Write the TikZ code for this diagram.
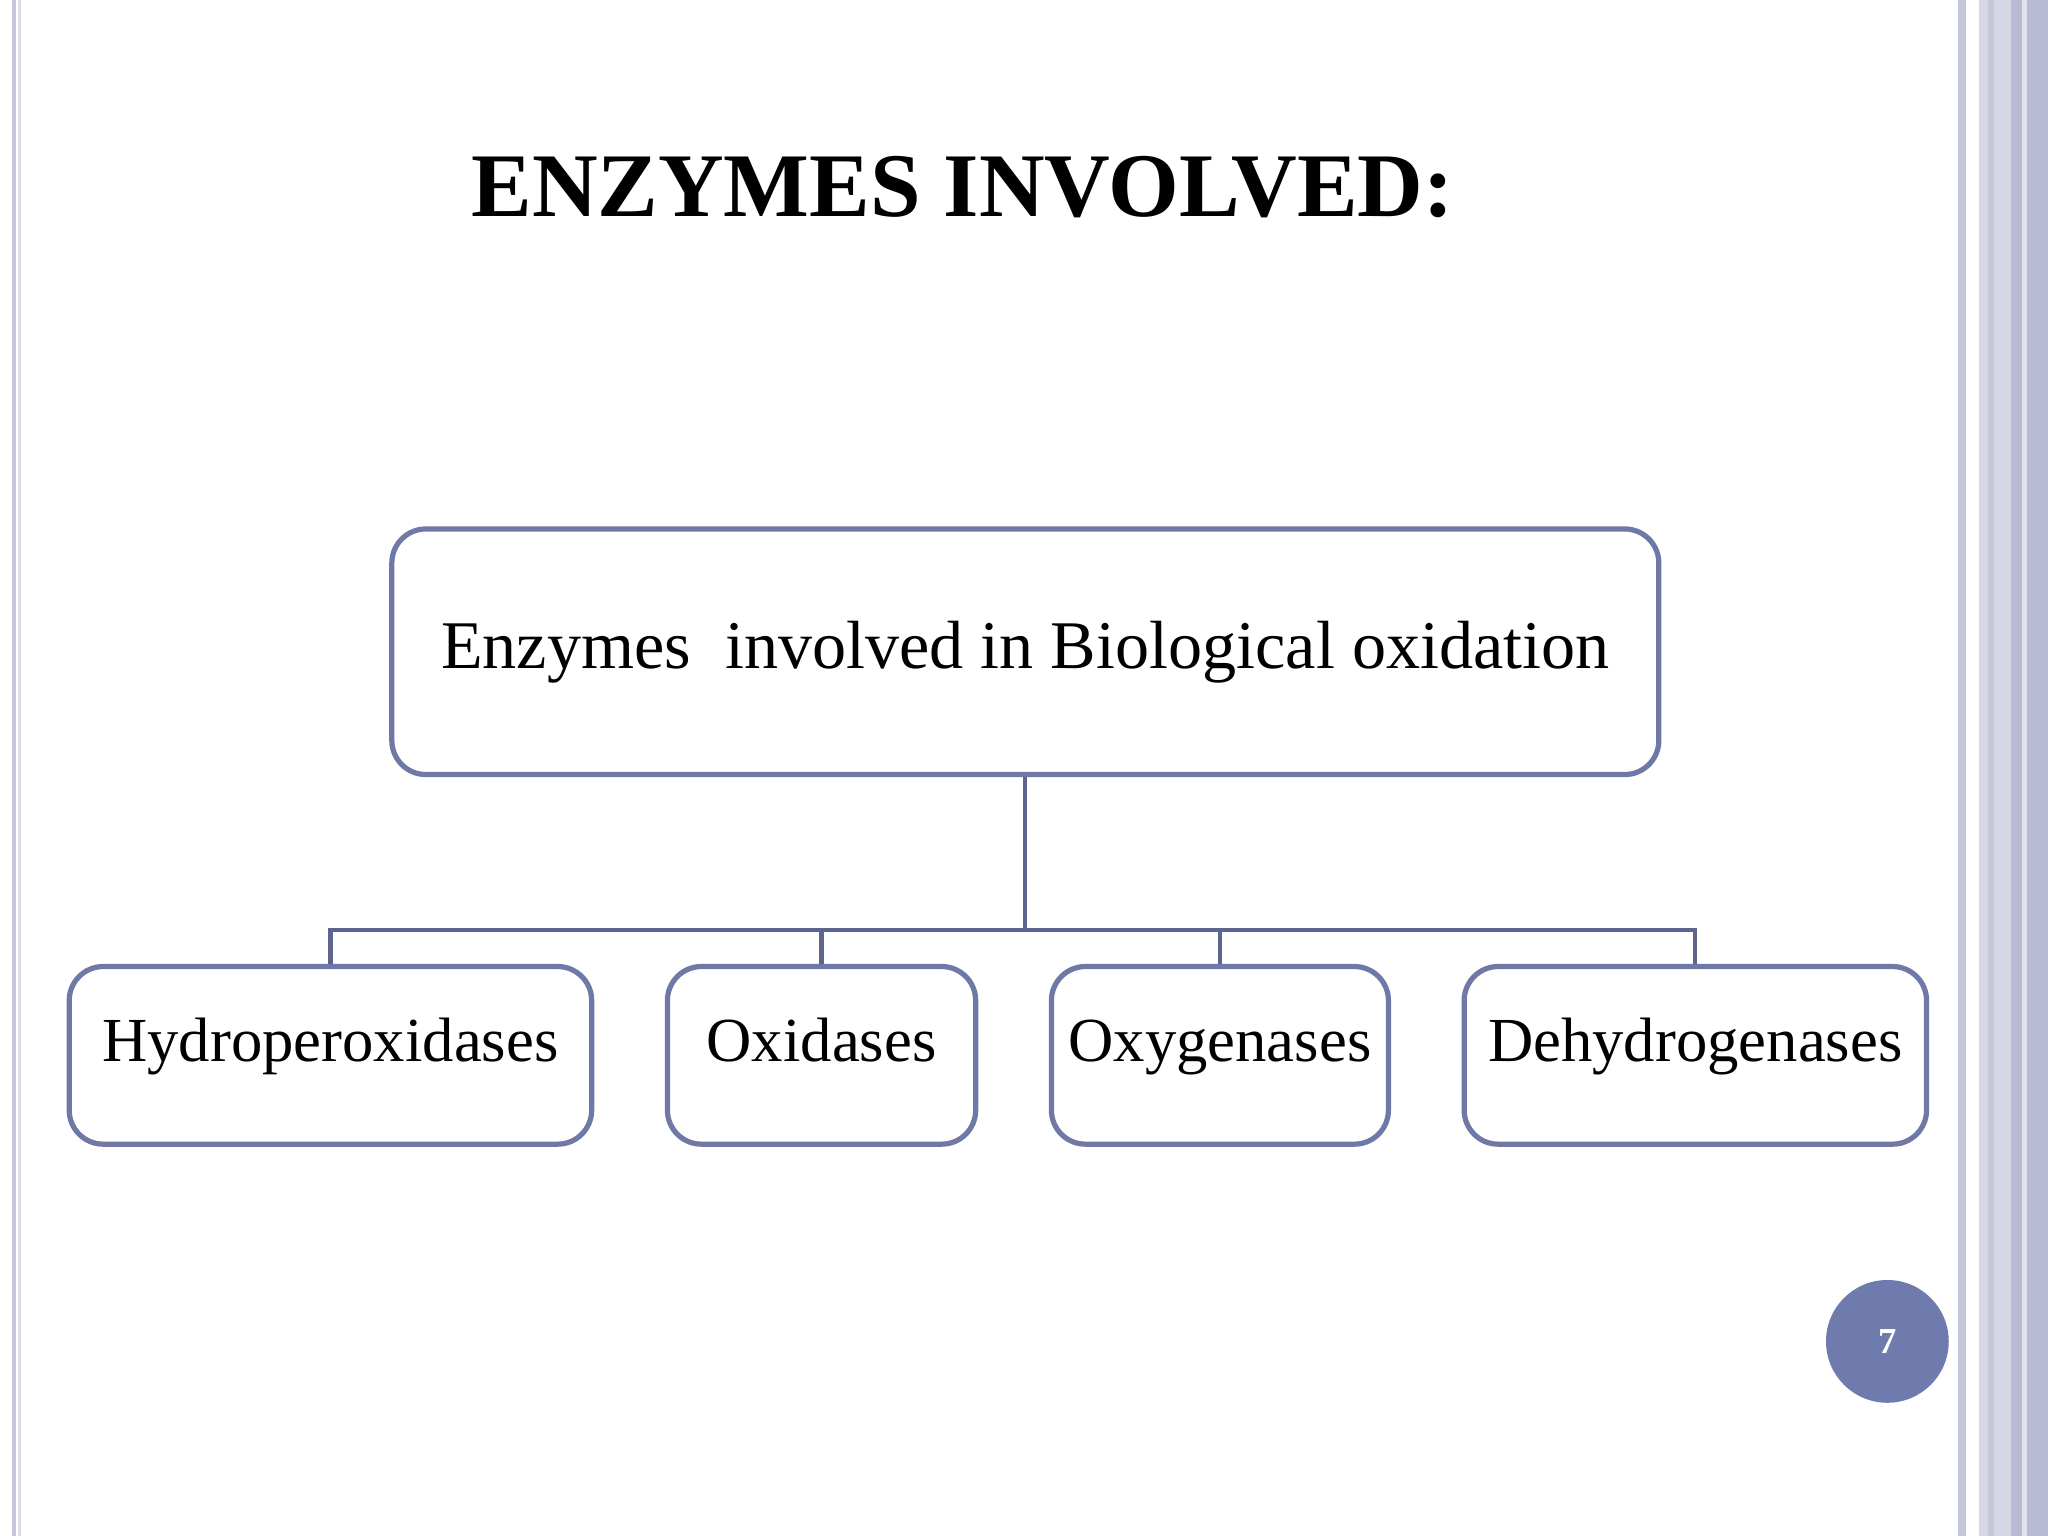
\documentclass[tikz,border=0pt]{standalone}
\usepackage{fontspec}
\setmainfont{Liberation Serif}
\begin{document}
\begin{tikzpicture}[x=0.5pt,y=-0.5pt,
  bx/.style={draw=boxc,line width=2pt,rounded corners=13pt,fill=white,text height=0.7em,text depth=0.22em},
  ln/.style={draw=lnc,line width=1.6pt}]
\definecolor{boxc}{HTML}{7078A6}
\definecolor{lnc}{HTML}{5E6690}
\definecolor{edge}{HTML}{C4C6DA}
\definecolor{circ}{HTML}{6F7AAD}
\useasboundingbox (0,0) rectangle (1568,1176);
\fill[white] (0,0) rectangle (1568,1176);
% borders
\fill[edge] (9,0) rectangle (12,1176);
\fill[edge!60] (14,0) rectangle (16,1176);
\fill[edge] (1499,0) rectangle (1505,1176);
\fill[edge!70] (1515,0) rectangle (1568,1176);
\fill[edge] (1522,0) rectangle (1527,1176);
\fill[edge!120] (1540,0) rectangle (1568,1176);
\fill[edge!50] (1548,0) rectangle (1552,1176);
% title
\node[font=\bfseries\fontsize{34.8pt}{38pt}\selectfont] (title) at (737,143) {ENZYMES INVOLVED:};
% boxes
\node[bx,minimum width=485pt,minimum height=94pt] (top) at (785,499) {};
\node[font=\fontsize{26.1pt}{30pt}\selectfont] (toptxt) at (785,499) {Enzymes\ \ involved in Biological oxidation};
\node[bx,minimum width=200pt,minimum height=68pt,font=\fontsize{24pt}{26pt}\selectfont] (h) at (253,808) {Hydroperoxidases};
\node[bx,minimum width=118pt,minimum height=68pt,font=\fontsize{24pt}{26pt}\selectfont] (o) at (629,808) {Oxidases};
\node[bx,minimum width=129pt,minimum height=68pt,font=\fontsize{24pt}{26pt}\selectfont] (g) at (934,808) {Oxygenases};
\node[bx,minimum width=177pt,minimum height=68pt,font=\fontsize{24pt}{26pt}\selectfont] (d) at (1298,808) {Dehydrogenases};
% connectors
\coordinate (j) at (785,712);
\draw[ln] (top.south) -- (j);
\draw[ln] (h.north) -- (253,712) -- (1298,712) -- (d.north);
\draw[ln] (o.north) -- (629,712);
\draw[ln] (g.north) -- (934,712);
% page number
\node[circle,fill=circ,minimum size=47pt,text=white,font=\bfseries\fontsize{14pt}{16pt}\selectfont] (pg) at (1445,1027) {7};
\end{tikzpicture}
\end{document}
